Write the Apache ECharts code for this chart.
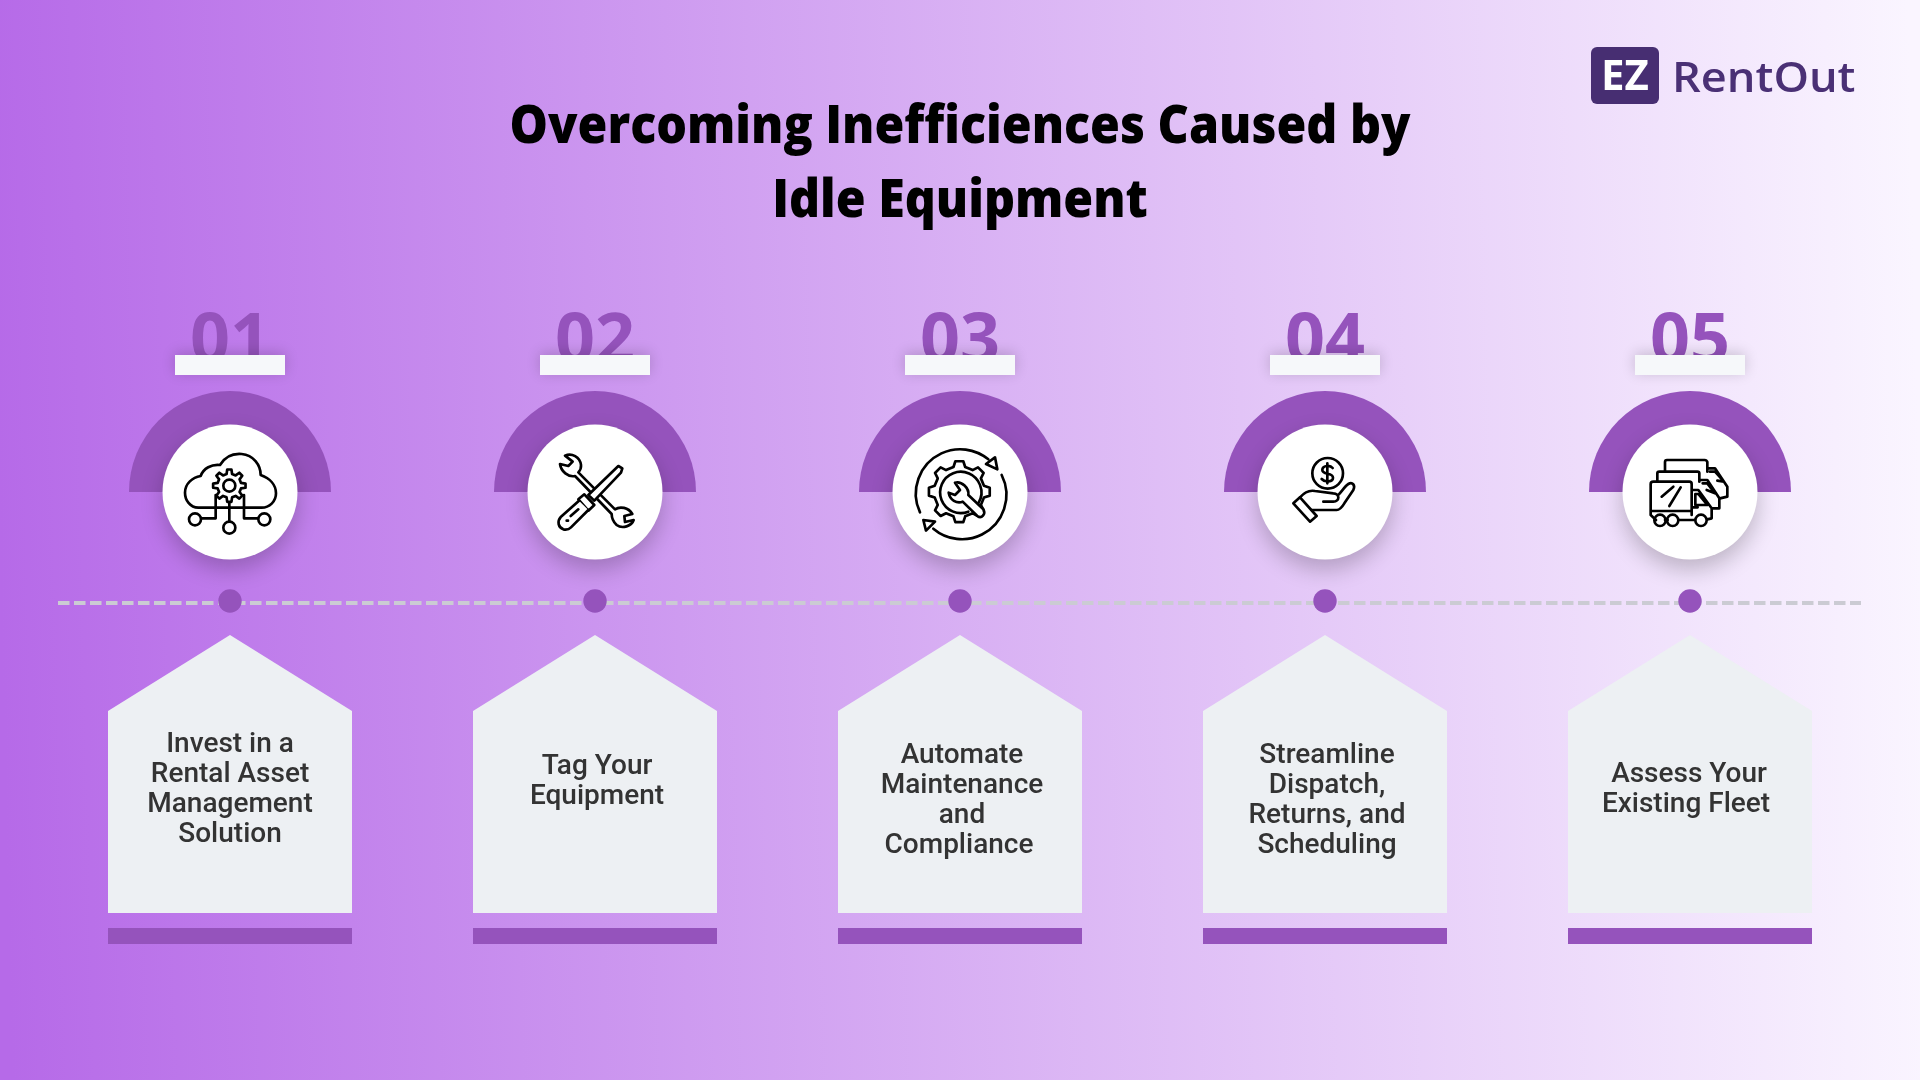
<!DOCTYPE html>
<html>
<head>
<meta charset="utf-8">
<title>Overcoming Inefficiences Caused by Idle Equipment</title>
<script src="https://cdn.jsdelivr.net/npm/echarts@6/dist/echarts.min.js"></script>
<style>
    html, body {margin:0;padding:0;}
    #chart {width:1920px;height:1080px;}
</style>
</head>
<body>
<div id="chart"></div>
<script>
    var chartTitle = 'Overcoming Inefficiences Caused by\nIdle Equipment';
    var stepNumbers = ['01', '02', '03', '04', '05'];
    var stepLabels = [
        ['Invest in a', 'Rental Asset', 'Management', 'Solution'],
        ['Tag Your', 'Equipment'],
        ['Automate', 'Maintenance', 'and', 'Compliance'],
        ['Streamline', 'Dispatch,', 'Returns, and', 'Scheduling'],
        ['Assess Your', 'Existing Fleet']
    ];
    var logoMark = 'EZ';
    var logoName = 'RentOut';

    // where the first text line of each step sits, and small nudges per line
    var labelTop = [745, 767, 756, 756, 775];
    var labelNudge = [[0, 0, 0, 0], [2, 2], [2, 2, 2, -1], [2, 2, 2, 2], [-1, -4]];

    var purple = '#9553bc';
    var textFont = '500 28px Roboto';

    // gear outline, icons are drawn in a 360x300 box and scaled down by 3
    function gearPath(cx, cy, ro, ri, n) {
        var d = '', step = Math.PI * 2 / n;
        for (var i = 0; i < n; i++) {
            var a = -Math.PI / 2 + i * step;
            [[ri, -0.27], [ro, -0.15], [ro, 0.15], [ri, 0.27]].forEach(function (p, k) {
                var x = cx + p[0] * Math.cos(a + p[1] * step * 1.1);
                var y = cy + p[0] * Math.sin(a + p[1] * step * 1.1);
                d += ((i === 0 && k === 0) ? 'M' : 'L') + x.toFixed(1) + ' ' + y.toFixed(1) + ' ';
            });
        }
        return d + 'Z';
    }
    function circlePath(cx, cy, r) {
        return 'M' + (cx - r) + ' ' + cy + ' A' + r + ' ' + r + ' 0 1 1 ' + (cx + r) + ' ' + cy +
            ' A' + r + ' ' + r + ' 0 1 1 ' + (cx - r) + ' ' + cy + ' Z';
    }

    var icons = [
        // cloud with gear
        [
            {d: 'M85 203 C60 203 45 180 45 158 C45 130 68 112 92 108 C100 85 125 72 150 75 C165 50 190 40 215 42 C250 45 272 75 272 105 C300 115 318 135 318 160 C318 185 298 203 275 203 Z'},
            {d: 'M137 165 L137 235 L95 235 M178 187 L178 245 M222 165 L222 235 L263 235'},
            {d: circlePath(75, 238, 18)},
            {d: circlePath(178, 263, 18)},
            {d: circlePath(283, 238, 18)},
            {d: gearPath(178, 137, 49, 36, 8), fill: '#fff'},
            {d: circlePath(178, 137, 18)}
        ],
        // wrench and screwdriver
        [
            {d: 'M90 47 C110 38 135 50 138 75 C139 85 135 92 130 97 L240 208 C255 198 280 202 292 222 L268 228 L270 246 L296 240 C290 258 262 268 245 255 C232 243 230 232 230 222 L120 108 C100 112 78 95 75 72 L100 78 L113 65 Z', fill: '#fff'},
            {d: 'M250 78 L262 85 L258 98 L178 182 L160 165 Z', fill: '#fff'},
            {d: 'M130 178 L148 163 L178 195 L160 212 Z', fill: '#fff'},
            {d: 'M132 182 L78 230 C65 245 70 262 85 268 C95 270 102 268 108 262 L160 210', fill: '#fff'},
            {d: 'M107 228 L130 208 M95 242 L99 242'}
        ],
        // gear, wrench and circular arrows
        [
            {d: 'M60 217 A133 133 0 0 1 265 58 M305 105 A133 133 0 0 1 100 266'},
            {d: 'M258 72 L285 52 L292 88 Z M70 240 L105 245 L78 272 Z', fill: '#fff'},
            {d: gearPath(178, 155, 92, 76, 8)},
            {d: 'M205 215 A62 62 0 1 1 235 190'},
            {d: 'M165 128 C185 122 208 145 205 165 L250 208 C258 222 245 238 232 228 L188 185 C170 192 150 180 146 158 L165 165 L180 150 Z', fill: '#fff'}
        ],
        // hand holding a coin
        [
            {d: circlePath(188, 100, 46)},
            {d: 'M203 84 C195 74 172 76 172 90 C172 106 204 96 204 113 C204 126 180 128 170 117 M187 70 L187 130'},
            {d: 'M85 190 L105 172 L155 228 L135 245 Z'},
            {d: 'M105 172 C120 155 135 150 150 153 L205 160 C225 160 225 185 205 185 L175 185 M140 210 L215 210 C225 210 232 200 238 190 L265 150 C272 135 262 125 250 132 C240 138 230 155 218 167'}
        ],
        // trucks
        [
            {d: 'M105 95 L105 66 Q105 60 111 60 L224 60 Q230 60 232 66 L232 95 M232 85 L255 85 L292 140 L292 170 L270 175 M240 95 L255 95 L282 125 L262 122'},
            {d: 'M82 125 L82 100 Q82 95 88 95 L202 95 Q208 95 208 100 L208 125 M208 120 L232 120 L268 175 L268 205 L248 205 M218 130 L232 130 L255 160 L230 150'},
            {d: 'M78 240 L62 225 L62 132 Q62 125 70 125 L178 125 Q185 125 185 132 L185 225 M185 150 L205 150 L245 205 L245 235 L232 238 M196 162 L205 162 L232 195 L196 195 Z M62 213 L185 213 M105 240 L113 240 M145 240 L195 240 M190 202 L203 202 M95 170 L130 140 M118 198 L152 142'},
            {d: circlePath(90, 241, 17)},
            {d: circlePath(128, 241, 17)},
            {d: circlePath(213, 241, 17)}
        ]
    ];

    function renderStep(params, api) {
        var i = api.value(0);
        var xc = api.coord([i, 0])[0];
        var Y = function (v) {
            return api.coord([i, v])[1];
        };
        var labelChildren = stepLabels[i].map(function (line, k) {
            return {
                type: 'text',
                style: {
                    text: line, x: xc + labelNudge[i][k], y: Y(labelTop[i] + k * 30),
                    font: textFont, fill: '#333333', align: 'center', verticalAlign: 'middle'
                }
            };
        });
        var iconChildren = icons[i].map(function (p) {
            return {
                type: 'path',
                shape: {pathData: p.d},
                style: {fill: p.fill || 'none', stroke: '#000', lineWidth: 8, lineJoin: 'round', lineCap: 'round'}
            };
        });
        return {
            type: 'group',
            children: [
                {type: 'text', style: {
                    text: stepNumbers[i], x: xc, y: Y(343), font: 'bold 70px "Open Sans"',
                    fill: purple, align: 'center', verticalAlign: 'middle'
                }},
                {type: 'rect', shape: {x: xc - 55, y: Y(355), width: 110, height: 20}, style: {
                    fill: '#f6f8fa', shadowBlur: 14, shadowColor: 'rgba(0,0,0,0.18)', shadowOffsetY: -2
                }},
                {type: 'sector', shape: {cx: xc, cy: Y(492), r: 101, r0: 0, startAngle: Math.PI, endAngle: Math.PI * 2}, style: {fill: purple}},
                {type: 'circle', shape: {cx: xc, cy: Y(492), r: 67.5}, style: {
                    fill: '#fff', shadowBlur: 22, shadowOffsetY: 10, shadowColor: 'rgba(0,0,0,0.22)'
                }},
                {type: 'group', x: xc - 60, y: Y(440), scaleX: 1 / 3, scaleY: 1 / 3, children: iconChildren},
                {type: 'circle', shape: {cx: xc, cy: Y(601), r: 11.7}, style: {fill: purple}},
                {type: 'polygon', shape: {points: [
                    [xc, Y(635)], [xc + 122, Y(711)], [xc + 122, Y(913)], [xc - 122, Y(913)], [xc - 122, Y(711)]
                ]}, style: {fill: '#edf0f3'}},
                {type: 'group', children: labelChildren},
                {type: 'rect', shape: {x: xc - 122, y: Y(928), width: 244, height: 16}, style: {fill: purple}}
            ]
        };
    }

    var chart = echarts.init(document.getElementById('chart'));
    chart.setOption({
        animation: false,
        backgroundColor: new echarts.graphic.LinearGradient(0, 0.52, 1, 0.48, [
            {offset: 0, color: '#b66ae8'},
            {offset: 1, color: '#faf5ff'}
        ]),
        grid: {left: 47.5, right: 47.5, top: 0, bottom: 0},
        xAxis: {type: 'category', show: false, data: stepNumbers},
        yAxis: {type: 'value', show: false, inverse: true, min: 0, max: 1080},
        graphic: [
            {type: 'text', x: 960, y: 165, scaleX: 0.912, style: {
                text: chartTitle, x: 0, y: 0, font: '800 53px "Open Sans"', lineHeight: 74,
                fill: '#000', align: 'center', verticalAlign: 'middle'
            }},
            {type: 'line', shape: {x1: 58, y1: 603, x2: 1861, y2: 603}, style: {stroke: '#cbcbd3', lineWidth: 4, lineDash: [11.5, 4.5]}},
            {type: 'rect', shape: {x: 1591, y: 47, width: 68, height: 57, r: 6}, style: {fill: '#472e72'}},
            {type: 'text', style: {text: logoMark, x: 1625, y: 78, font: 'bold 42px "Open Sans"', fill: '#fff', align: 'center', verticalAlign: 'middle'}},
            {type: 'text', x: 1672, y: 80, scaleX: 1.075, style: {text: logoName, x: 0, y: 0, font: '600 42px "Open Sans"', fill: '#4a3075', align: 'left', verticalAlign: 'middle'}}
        ],
        series: [{
            type: 'custom',
            coordinateSystem: 'cartesian2d',
            renderItem: renderStep,
            silent: true,
            clip: false,
            encode: {x: 0},
            data: stepNumbers.map(function (n, i) {
                return [i];
            })
        }]
    });
</script>
</body>
</html>
